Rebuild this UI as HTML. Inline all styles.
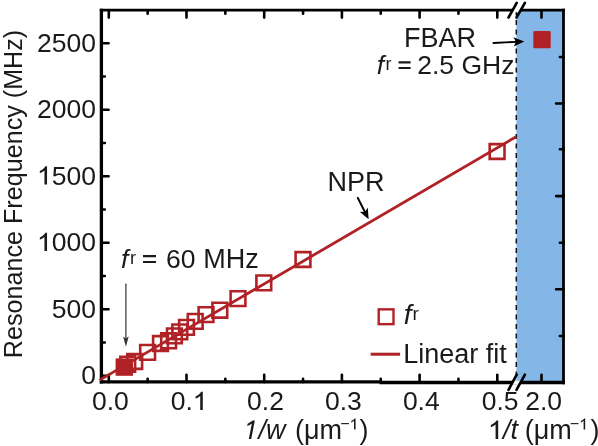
<!DOCTYPE html><html><head><meta charset="utf-8"><style>html,body{margin:0;padding:0;background:#fff;width:598px;height:446px;overflow:hidden}svg{display:block;will-change:transform}text{font-family:"Liberation Sans",sans-serif;fill:#1a1a1a}.h{fill-opacity:0}</style></head><body>
<svg width="598" height="446" viewBox="0 0 598 446">
<rect x="516.4" y="10" width="47" height="372.5" fill="#84B6E7"/>
<line x1="516.3" y1="11" x2="516.3" y2="381" stroke="#111" stroke-width="1.5" stroke-dasharray="4.9 4.6" stroke-dashoffset="0.4"/>
<path d="M99.8 10.2 H564.9" stroke="#000" stroke-width="2.8"/>
<path d="M563.5 8.8 V384.2" stroke="#000" stroke-width="2.8"/>
<path d="M101.4 8.8 V383.5" stroke="#000" stroke-width="3.3"/>
<path d="M99.8 381.8 H380.5" stroke="#000" stroke-width="3.3"/>
<path d="M379.5 382.5 H564.9" stroke="#000" stroke-width="3.4"/>
<path d="M101.4 375.80h7.2 M101.4 342.55h3.4 M101.4 309.30h7.2 M101.4 276.05h3.4 M101.4 242.80h7.2 M101.4 209.55h3.4 M101.4 176.30h7.2 M101.4 143.05h3.4 M101.4 109.80h7.2 M101.4 76.55h3.4 M101.4 43.30h7.2 M108.80 382.1v-7.3 M108.80 10.3v7.3 M147.65 382.1v-3.4 M147.65 10.3v3.4 M186.50 382.1v-7.3 M186.50 10.3v7.3 M225.35 382.1v-3.4 M225.35 10.3v3.4 M264.20 382.1v-7.3 M264.20 10.3v7.3 M303.05 382.1v-3.4 M303.05 10.3v3.4 M341.90 382.1v-7.3 M341.90 10.3v7.3 M380.75 382.1v-3.4 M380.75 10.3v3.4 M419.60 382.1v-7.3 M419.60 10.3v7.3 M458.45 382.1v-3.4 M458.45 10.3v3.4 M497.30 382.1v-7.3 M497.30 10.3v7.3 M541.5 382.1v-7.3 M541.5 10.3v7.3 M563.3 57h-3.4 M563.3 103.5h-7.2 M563.3 149.3h-3.4 M563.3 196.1h-7.2 M563.3 242.8h-3.4 M563.3 289.3h-7.2 M563.3 336.0h-3.4" stroke="#000" stroke-width="2.6" fill="none" stroke-linecap="round"/>
<path d="M511.40 12.299999999999999 L513.74 8.1 L521.87 8.1 L519.47 12.299999999999999 Z" fill="#fff"/>
<path d="M508.5 17.5 L516.7 2.8 M516.5 17.5 L524.9 2.8" stroke="#000" stroke-width="2.6" stroke-linecap="round"/>
<path d="M511.34 384.6 L513.59 380.4 L521.72 380.4 L519.41 384.6 Z" fill="#fff"/>
<path d="M508.5 389.9 L516.7 374.6 M516.5 389.9 L524.9 374.6" stroke="#000" stroke-width="2.6" stroke-linecap="round"/>
<line x1="99.6" y1="380.1" x2="516.2" y2="136.7" stroke="#B12226" stroke-width="2.8"/>
<path d="M120.30 356.80h14.8v14.8h-14.8Z M127.30 354.10h14.8v14.8h-14.8Z M140.20 345.00h14.8v14.8h-14.8Z M153.10 336.10h14.8v14.8h-14.8Z M161.20 333.40h14.8v14.8h-14.8Z M167.00 328.50h14.8v14.8h-14.8Z M172.40 324.50h14.8v14.8h-14.8Z M179.10 320.00h14.8v14.8h-14.8Z M187.80 314.00h14.8v14.8h-14.8Z M198.60 307.20h14.8v14.8h-14.8Z M212.40 302.80h14.8v14.8h-14.8Z M230.60 291.20h14.8v14.8h-14.8Z M256.40 275.50h14.8v14.8h-14.8Z M295.60 252.10h14.8v14.8h-14.8Z M489.70 144.10h14.8v14.8h-14.8Z" fill="none" stroke="#B12226" stroke-width="2.6"/>
<rect x="116.90" y="359.70" width="14.8" height="14.8" fill="#B12226" stroke="#B12226" stroke-width="2.6"/>
<rect x="534.60" y="32.20" width="14.8" height="14.8" fill="#B12226" stroke="#B12226" stroke-width="2.6" stroke-linejoin="round"/>
<text id="yt0" x="96.0" y="384.10" font-size="26.5" text-anchor="end">0</text>
<text id="yt500" x="96.0" y="317.60" font-size="26.5" text-anchor="end">500</text>
<text id="yt1000" x="96.0" y="251.10" font-size="26.5" text-anchor="end"><tspan class="h">1</tspan>000</text>
<text id="yt1500" x="96.0" y="184.60" font-size="26.5" text-anchor="end"><tspan class="h">1</tspan>500</text>
<text id="yt2000" x="96.0" y="118.10" font-size="26.5" text-anchor="end">2000</text>
<text id="yt2500" x="96.0" y="51.60" font-size="26.5" text-anchor="end">2500</text>
<text id="xt0" x="110.40" y="410.1" font-size="26.5" text-anchor="middle">0.0</text>
<text id="xt1" x="189.10" y="410.1" font-size="26.5" text-anchor="middle">0.<tspan class="h">1</tspan></text>
<text id="xt2" x="265.50" y="410.1" font-size="26.5" text-anchor="middle">0.2</text>
<text id="xt3" x="343.40" y="410.1" font-size="26.5" text-anchor="middle">0.3</text>
<text id="xt4" x="421.30" y="410.1" font-size="26.5" text-anchor="middle">0.4</text>
<text id="xt5" x="500.10" y="410.1" font-size="26.5" text-anchor="middle">0.5</text>
<text id="xt20" x="543.6" y="410.1" font-size="26.5" text-anchor="middle">2.0</text>
<text id="ylab" transform="translate(21.8 194.0) rotate(-90)" font-size="25.15" text-anchor="middle">Resonance Frequency (MHz)</text>
<text id="t1a" x="243.4" y="439" font-size="27" font-style="italic"><tspan class="h">1</tspan>/w</text>
<text id="t1b" x="295" y="439" font-size="27">(μm</text>
<text id="t1c" x="340.2" y="429.4" font-size="16">−<tspan class="h">1</tspan></text>
<text id="t1d" x="359.6" y="439" font-size="27">)</text>
<text id="t2a" x="488" y="439" font-size="27"><tspan class="h">1</tspan><tspan font-style="italic">/t</tspan></text>
<text id="t2b" x="524.7" y="439" font-size="27">(μm</text>
<text id="t2c" x="569.8" y="429.4" font-size="16">−<tspan class="h">1</tspan></text>
<text id="t2d" x="590.6" y="439" font-size="27">)</text>
<text x="403.9" y="46.6" font-size="27">FBAR</text>
<text x="376.8" y="74.1" font-size="26.5" font-style="italic">f</text><text x="385.4" y="70.4" font-size="18">r</text><path d="M398.6 61.2h12v2.2h-12zM398.6 66.9h12v2.2h-12z" fill="#1a1a1a"/><text x="417.2" y="73.6" font-size="26.5">2.5 GHz</text>
<text x="121" y="267.8" font-size="26.5" font-style="italic">f</text><text x="130.1" y="264.3" font-size="18">r</text><path d="M143 255.1h13v2.1h-13zM143 260.9h13v2.1h-13z" fill="#1a1a1a"/><text x="165.9" y="267.8" font-size="26.5">60</text><text x="203.3" y="267.8" font-size="27">MHz</text>
<text x="327.6" y="190.8" font-size="27">NPR</text>
<rect x="378.70" y="309.35" width="14.8" height="14.8" fill="none" stroke="#B12226" stroke-width="2.4"/>
<text x="403.8" y="324.2" font-size="28" font-style="italic">f</text><text x="412.6" y="319.8" font-size="19">r</text>
<line x1="370.7" y1="354.2" x2="400.1" y2="354.2" stroke="#B12226" stroke-width="3"/>
<text x="403.2" y="362.5" font-size="27">Linear fit</text>
<path transform="translate(37.03 251.10) scale(0.01294 -0.01294)" d="M773 0H575V1098Q510 1038 405 979Q300 920 216 890V1060Q370 1127 485 1224Q598 1320 645 1409H773Z" fill="#1a1a1a"/>
<path transform="translate(37.03 184.60) scale(0.01294 -0.01294)" d="M773 0H575V1098Q510 1038 405 979Q300 920 216 890V1060Q370 1127 485 1224Q598 1320 645 1409H773Z" fill="#1a1a1a"/>
<path transform="translate(192.78 410.10) scale(0.01294 -0.01294)" d="M773 0H575V1098Q510 1038 405 979Q300 920 216 890V1060Q370 1127 485 1224Q598 1320 645 1409H773Z" fill="#1a1a1a"/>
<path transform="translate(243.40 439.00) scale(0.01318 -0.01318)" d="M412 0L640 1175Q560 1110 470 1060Q380 1015 289 990L322 1165Q450 1220 560 1300Q650 1365 701 1409H867L593 0Z" fill="#1a1a1a"/>
<path transform="translate(349.54 429.40) scale(0.00781 -0.00781)" d="M773 0H575V1098Q510 1038 405 979Q300 920 216 890V1060Q370 1127 485 1224Q598 1320 645 1409H773Z" fill="#1a1a1a"/>
<path transform="translate(488.00 439.00) scale(0.01318 -0.01318)" d="M773 0H575V1098Q510 1038 405 979Q300 920 216 890V1060Q370 1127 485 1224Q598 1320 645 1409H773Z" fill="#1a1a1a"/>
<path transform="translate(579.14 429.40) scale(0.00781 -0.00781)" d="M773 0H575V1098Q510 1038 405 979Q300 920 216 890V1060Q370 1127 485 1224Q598 1320 645 1409H773Z" fill="#1a1a1a"/>
<line x1="357.8" y1="197.9" x2="364.94" y2="211.98" stroke="#000" stroke-width="2.0" stroke-linecap="round"/><path d="M368.6 219.2 L359.79 211.78 L364.94 211.98 L367.82 207.71 Z" fill="#000"/>
<line x1="493.4" y1="43" x2="516.11" y2="41.82" stroke="#000" stroke-width="1.8" stroke-linecap="round"/><path d="M524.3 41.4 L513.75 46.55 L516.11 41.82 L513.28 37.36 Z" fill="#000"/>
<line x1="125.9" y1="284.2" x2="125.90" y2="338.40" stroke="#333" stroke-width="1.2" stroke-linecap="round"/><path d="M125.9 346.7 L123.10 336.40 L125.90 338.40 L128.70 336.40 Z" fill="#333"/>
</svg></body></html>
